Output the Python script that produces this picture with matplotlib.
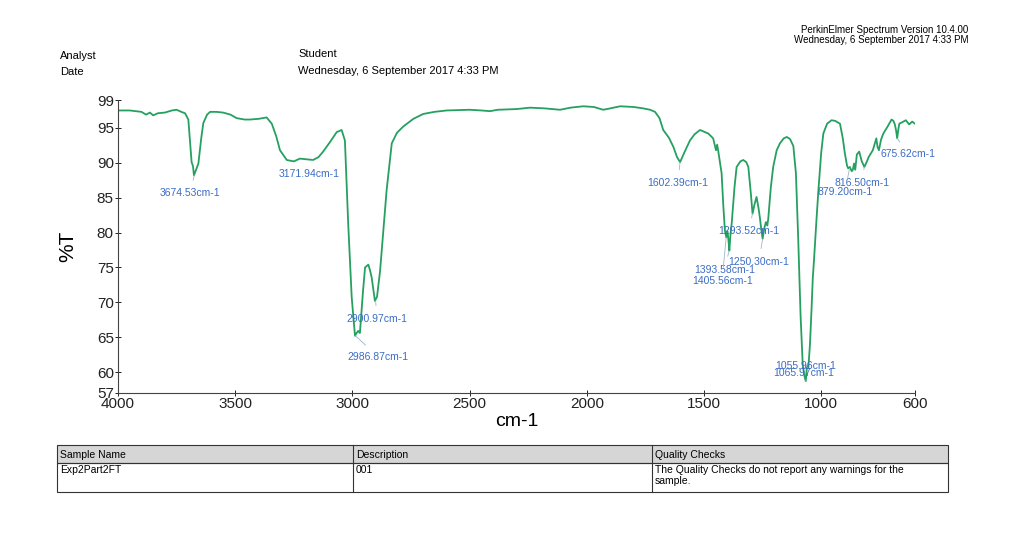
import numpy as np
import matplotlib
matplotlib.use('Agg')
import matplotlib.pyplot as plt
from matplotlib.patches import Rectangle

plt.rcParams['font.family'] = ['Liberation Sans', 'DejaVu Sans']

wavenumber = [4000, 3950, 3900, 3880, 3864, 3850, 3830, 3800, 3770, 3750, 3730, 3714, 3700,
              3693, 3686, 3680, 3676, 3668, 3657, 3645, 3636, 3620, 3607, 3580, 3552, 3520,
              3494, 3460, 3437, 3400, 3366, 3344, 3325, 3309, 3280, 3250, 3224, 3195, 3168,
              3145, 3125, 3095, 3067, 3046, 3032, 3018, 3003, 2989, 2982, 2975, 2968, 2955,
              2946, 2932, 2925, 2918, 2904, 2895, 2882, 2870, 2854, 2832, 2810, 2783, 2740,
              2698, 2650, 2598, 2500, 2450, 2413, 2380, 2300, 2242, 2180, 2114, 2070, 2015,
              1970, 1930, 1900, 1858, 1800, 1760, 1730, 1709, 1690, 1674, 1650, 1631, 1615,
              1602, 1585, 1560, 1540, 1517, 1482, 1461, 1449, 1444, 1439, 1432, 1425, 1418,
              1411, 1405, 1400, 1396, 1392, 1387, 1382, 1370, 1361, 1345, 1333, 1320, 1311,
              1300, 1293, 1285, 1276, 1268, 1262, 1256, 1250, 1243, 1236, 1230, 1226, 1215,
              1205, 1190, 1176, 1160, 1147, 1133, 1119, 1108, 1098, 1088, 1079, 1072, 1066,
              1061, 1055, 1048, 1041, 1036, 1031, 1020, 1012, 1000, 991, 975, 956, 940, 920,
              908, 899, 890, 885, 878, 870, 865, 860, 855, 848, 838, 827, 816, 805, 798, 780,
              765, 760, 754, 745, 735, 715, 700, 692, 686, 680, 676, 671, 667, 655, 639, 625,
              612, 600]
transmittance = [97.5, 97.5, 97.3, 96.9, 97.2, 96.8, 97.1, 97.2, 97.5, 97.6, 97.3, 97.1, 96.2,
                 93.2, 90.1, 89.5, 88.2, 88.9, 89.9, 93.5, 95.7, 96.9, 97.3, 97.3, 97.2, 96.9,
                 96.4, 96.2, 96.2, 96.3, 96.5, 95.6, 93.8, 91.8, 90.4, 90.2, 90.6, 90.5, 90.4,
                 90.8, 91.6, 93.0, 94.4, 94.7, 93.2, 81.3, 70.7, 65.2, 65.6, 65.9, 65.6, 71.5,
                 75.0, 75.4, 74.6, 73.6, 70.2, 70.8, 74.5, 79.5, 86.1, 92.8, 94.3, 95.2, 96.3,
                 97.0, 97.3, 97.5, 97.6, 97.5, 97.4, 97.6, 97.7, 97.9, 97.8, 97.6, 97.9, 98.1,
                 98.0, 97.6, 97.8, 98.1, 98.0, 97.8, 97.6, 97.3, 96.4, 94.7, 93.6, 92.3, 90.8,
                 90.1, 91.4, 93.2, 94.1, 94.7, 94.2, 93.5, 91.8, 92.6, 91.6, 90.0, 88.5, 84.0,
                 80.3, 79.3, 80.2, 79.0, 77.4, 79.8, 81.3, 86.5, 89.4, 90.2, 90.4, 90.1, 89.4,
                 85.5, 82.7, 84.0, 85.1, 83.6, 82.2, 80.5, 79.1, 80.6, 81.5, 81.0, 82.0, 86.5,
                 89.4, 91.8, 92.8, 93.5, 93.7, 93.4, 92.4, 88.5, 78.9, 68.0, 61.1, 59.5, 58.7,
                 60.8, 60.6, 64.0, 69.3, 73.5, 76.0, 82.0, 86.1, 91.5, 94.2, 95.6, 96.1, 96.0,
                 95.6, 93.5, 91.3, 89.6, 89.2, 89.4, 88.8, 89.0, 89.9, 89.0, 91.2, 91.6, 90.2,
                 89.4, 90.2, 90.8, 91.8, 93.5, 92.3, 91.8, 93.3, 94.2, 95.3, 96.2, 96.0, 95.5,
                 94.5, 93.5, 94.8, 95.6, 95.8, 96.1, 95.5, 95.9, 95.6]

# peak labels: peak position, %T at peak, label position
peak_wn = [3674.53, 3171.94, 2900.97, 2986.87, 1602.39, 1293.52, 1250.30, 1393.58,
           1405.56, 1055.96, 1065.97, 816.50, 879.20, 675.62]
peak_t = [88.2, 90.4, 70.2, 65.2, 90.1, 82.7, 79.1, 77.4, 79.3, 60.6, 58.7, 89.4, 89.2, 93.5]
label_wn = [3693, 3185, 2895, 2891, 1611, 1308, 1265, 1411, 1423, 1065, 1073, 826, 899, 630]
label_t = [85.6, 88.4, 67.6, 62.2, 87.1, 80.2, 75.8, 74.7, 73.1, 60.9, 59.9, 87.1, 85.8, 91.2]

green = '#25a060'
blue = '#3a6cc4'
axis_grey = '#444444'

fig = plt.figure(figsize=(10.09, 5.49), dpi=100)
ax = fig.add_axes([118/1009, 1-393/549, 797/1009, 293/549])
ax.plot(wavenumber, transmittance, color=green, lw=1.3)
ax.set_xlim(4000, 600)
ax.set_ylim(57, 99)
ax.set_xticks([4000, 3500, 3000, 2500, 2000, 1500, 1000, 600])
ax.set_yticks([57, 60, 65, 70, 75, 80, 85, 90, 95, 99])
ax.tick_params(labelsize=11, colors='#222222', length=4, width=0.7, direction='inout', pad=1)
for s in ['top', 'right']:
    ax.spines[s].set_visible(False)
for s in ['left', 'bottom']:
    ax.spines[s].set_color(axis_grey)
    ax.spines[s].set_linewidth(0.8)
ax.set_xlabel('cm-1', fontsize=14, labelpad=1)
ax.set_ylabel('%T', fontsize=15, labelpad=14)

for pw, pt, lw_, lt, in zip(peak_wn, peak_t, label_wn, label_t):
    ax.annotate('%.2fcm-1' % pw, xy=(pw, pt), xytext=(lw_, lt), ha='center', va='center',
                fontsize=7.5, color=blue,
                arrowprops=dict(arrowstyle='-', color='#9fb3c8', lw=0.6, shrinkA=4, shrinkB=0))

# header text
fig.text(968/1009, 1-30/549, 'PerkinElmer Spectrum Version 10.4.00', ha='right', va='center', fontsize=7)
fig.text(968/1009, 1-40/549, 'Wednesday, 6 September 2017 4:33 PM', ha='right', va='center', fontsize=7)
fig.text(60/1009, 1-56/549, 'Analyst', ha='left', va='center', fontsize=8)
fig.text(60/1009, 1-72/549, 'Date', ha='left', va='center', fontsize=8)
fig.text(298/1009, 1-54/549, 'Student', ha='left', va='center', fontsize=8)
fig.text(298/1009, 1-71/549, 'Wednesday, 6 September 2017 4:33 PM', ha='left', va='center', fontsize=8)

# sample table
tx0, tx1, ty0, ty1, ty2 = 57, 948, 445, 463, 492
cols = [57, 353, 652, 948]
W, H = 1009.0, 549.0
fig.patches.append(Rectangle((tx0/W, 1-ty1/H), (tx1-tx0)/W, (ty1-ty0)/H, transform=fig.transFigure,
                             facecolor='#d6d6d6', edgecolor='#333333', lw=0.8))
fig.patches.append(Rectangle((tx0/W, 1-ty2/H), (tx1-tx0)/W, (ty2-ty1)/H, transform=fig.transFigure,
                             facecolor='none', edgecolor='#333333', lw=0.8))
for cx in cols[1:-1]:
    fig.lines.append(plt.Line2D([cx/W, cx/W], [1-ty0/H, 1-ty2/H], transform=fig.transFigure,
                                color='#333333', lw=0.8))
headers = ['Sample Name', 'Description', 'Quality Checks']
values = ['Exp2Part2FT', '001', 'The Quality Checks do not report any warnings for the\nsample.']
for cx, h, v in zip(cols[:-1], headers, values):
    fig.text((cx+3)/W, 1-455/H, h, ha='left', va='center', fontsize=7.5)
    fig.text((cx+3)/W, 1-465/H, v, ha='left', va='top', fontsize=7.5, linespacing=1.15)

fig.savefig('out.png', dpi=100)
